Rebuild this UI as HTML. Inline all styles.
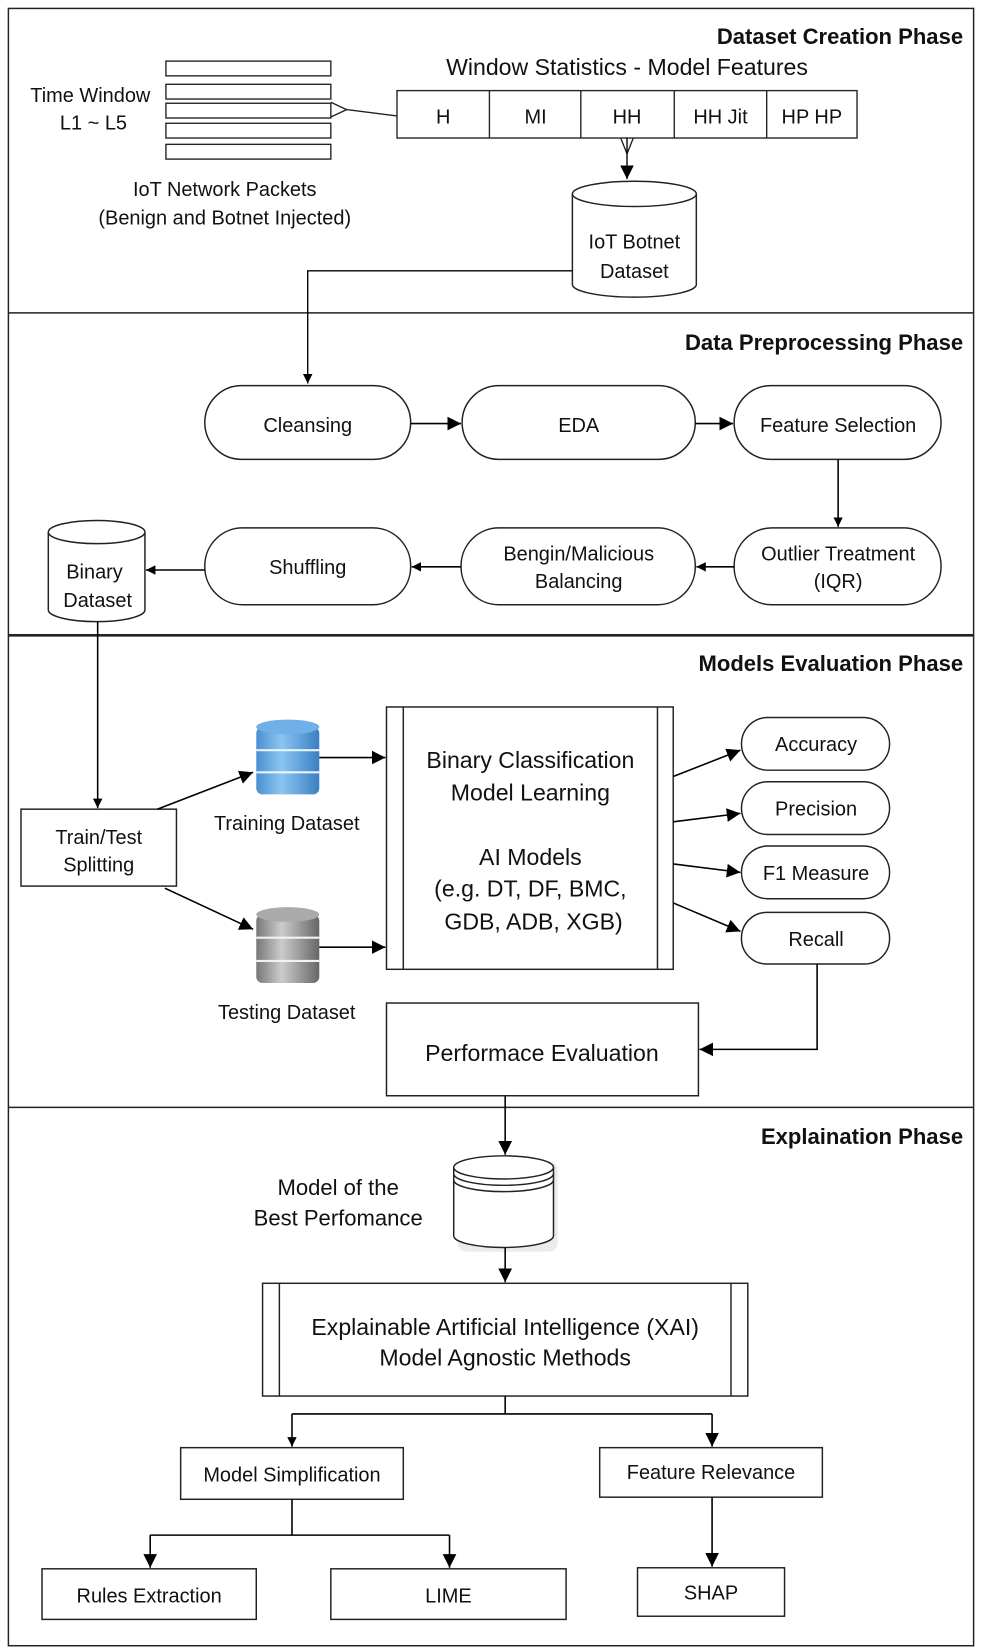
<!DOCTYPE html>
<html><head><meta charset="utf-8"><style>
html,body{margin:0;padding:0;background:#fff;}
svg{display:block;}
text{font-family:"Liberation Sans",Arial,sans-serif;fill:#111;}
.t{font-size:19px;text-anchor:middle;}
.b{font-size:21px;font-weight:bold;text-anchor:end;}
</style></head><body>
<svg width="982" height="1651" viewBox="0 0 935 1567" preserveAspectRatio="none" xmlns="http://www.w3.org/2000/svg">
<defs>
<marker id="a" viewBox="0 0 10 10" refX="10" refY="5" markerWidth="9" markerHeight="9" orient="auto" markerUnits="userSpaceOnUse"><path d="M0,0 L10,5 L0,10 z" fill="#000"/></marker>
<marker id="A" viewBox="0 0 10 10" refX="10" refY="5" markerWidth="13" markerHeight="13" orient="auto" markerUnits="userSpaceOnUse"><path d="M0,0 L10,5 L0,10 z" fill="#000"/></marker>
<linearGradient id="bl" x1="0" x2="1"><stop offset="0" stop-color="#4a90d0"/><stop offset=".4" stop-color="#8cc4f0"/><stop offset="1" stop-color="#3a7fc4"/></linearGradient>
<linearGradient id="gr" x1="0" x2="1"><stop offset="0" stop-color="#777"/><stop offset=".4" stop-color="#ccc"/><stop offset="1" stop-color="#666"/></linearGradient>
</defs>
<g fill="none" stroke="#222" stroke-width="1.4">
<rect x="8" y="8" width="919" height="1554"/>
<line x1="8" y1="297" x2="927" y2="297"/>
<line x1="8" y1="603" x2="927" y2="603" stroke-width="2.5"/>
<line x1="8" y1="1051" x2="927" y2="1051"/>
</g>
<text class="b" x="917" y="42">Dataset Creation Phase</text>
<text class="b" x="917" y="332">Data Preprocessing Phase</text>
<text class="b" x="917" y="637">Models Evaluation Phase</text>
<text class="b" x="917" y="1086">Explaination Phase</text>

<!-- Phase 1 -->
<g fill="#fff" stroke="#222" stroke-width="1.3">
<rect x="158" y="58" width="157" height="14"/>
<rect x="158" y="80" width="157" height="14"/>
<rect x="158" y="98" width="157" height="14"/>
<rect x="158" y="117" width="157" height="14"/>
<rect x="158" y="137" width="157" height="14"/>
<rect x="378" y="86" width="438" height="45"/>
<line x1="466" y1="86" x2="466" y2="131"/><line x1="553" y1="86" x2="553" y2="131"/>
<line x1="642" y1="86" x2="642" y2="131"/><line x1="730" y1="86" x2="730" y2="131"/>
<path d="M315,97 L330,104 L315,111 M330,104 L378,110" fill="none"/>
<path d="M591,131 L597,146 L603,131" fill="none"/>
</g>
<line x1="597" y1="131" x2="597" y2="170" stroke="#000" stroke-width="1.3" marker-end="url(#A)"/>
<text class="t" x="86" y="97">Time Window</text>
<text class="t" x="89" y="123">L1 ~ L5</text>
<text class="t" x="597" y="71" style="font-size:22px">Window Statistics - Model Features</text>
<text class="t" x="422" y="117">H</text><text class="t" x="510" y="117">MI</text><text class="t" x="597" y="117">HH</text>
<text class="t" x="686" y="117">HH Jit</text><text class="t" x="773" y="117">HP HP</text>
<text class="t" x="214" y="186">IoT Network Packets</text>
<text class="t" x="214" y="213">(Benign and Botnet Injected)</text>
<g fill="#fff" stroke="#222" stroke-width="1.4">
<path d="M545,184 L545,270 A59,12 0 0 0 663,270 L663,184"/>
<ellipse cx="604" cy="184" rx="59" ry="12"/>
<path d="M46,505 L46,579 A46,11 0 0 0 138,579 L138,505"/>
<ellipse cx="92" cy="505" rx="46" ry="11"/>
</g>
<text class="t" x="604" y="236">IoT Botnet</text><text class="t" x="604" y="264">Dataset</text>
<path d="M545,257 L293,257 L293,364" fill="none" stroke="#000" stroke-width="1.3" marker-end="url(#a)"/>

<!-- Phase 2 -->
<g fill="#fff" stroke="#222" stroke-width="1.4">
<rect x="195" y="366" width="196" height="70" rx="35"/>
<rect x="440" y="366" width="222" height="70" rx="35"/>
<rect x="699" y="366" width="197" height="70" rx="35"/>
<rect x="195" y="501" width="196" height="73" rx="36"/>
<rect x="439" y="501" width="223" height="73" rx="36"/>
<rect x="699" y="501" width="197" height="73" rx="36"/>
</g>
<g stroke="#000" stroke-width="1.5" fill="none">
<line x1="391" y1="402" x2="439" y2="402" marker-end="url(#A)"/>
<line x1="662" y1="402" x2="698" y2="402" marker-end="url(#A)"/>
<line x1="798" y1="436" x2="798" y2="500" marker-end="url(#a)"/>
<line x1="699" y1="538" x2="663" y2="538" marker-end="url(#a)"/>
<line x1="439" y1="538" x2="392" y2="538" marker-end="url(#a)"/>
<line x1="195" y1="541" x2="139" y2="541" marker-end="url(#a)"/>
<line x1="93" y1="590" x2="93" y2="767" marker-end="url(#a)"/>
</g>
<text class="t" x="293" y="410">Cleansing</text>
<text class="t" x="551" y="410">EDA</text>
<text class="t" x="798" y="410">Feature Selection</text>
<text class="t" x="293" y="545">Shuffling</text>
<text class="t" x="551" y="532">Bengin/Malicious</text><text class="t" x="551" y="558">Balancing</text>
<text class="t" x="798" y="532">Outlier Treatment</text><text class="t" x="798" y="558">(IQR)</text>
<text class="t" x="90" y="549">Binary</text><text class="t" x="93" y="576">Dataset</text>

<!-- Phase 3 -->
<g fill="#fff" stroke="#222" stroke-width="1.4">
<rect x="20" y="768" width="148" height="73"/>
<rect x="368" y="671" width="273" height="249"/>
<line x1="384" y1="671" x2="384" y2="920"/><line x1="626" y1="671" x2="626" y2="920"/>
<rect x="706" y="681" width="141" height="50" rx="25"/>
<rect x="706" y="742" width="141" height="50" rx="25"/>
<rect x="706" y="803" width="141" height="50" rx="25"/>
<rect x="706" y="866" width="141" height="49" rx="24"/>
<rect x="368" y="952" width="297" height="88"/>
</g>
<!-- db icons -->
<g stroke="none">
<rect x="244" y="690" width="60" height="64" fill="url(#bl)" rx="6"/>
<ellipse cx="274" cy="690" rx="30" ry="7" fill="#6fb0e8"/>
<line x1="244" y1="712" x2="304" y2="712" stroke="#e8f3fc" stroke-width="2"/>
<line x1="244" y1="733" x2="304" y2="733" stroke="#e8f3fc" stroke-width="2"/>
<rect x="244" y="868" width="60" height="65" fill="url(#gr)" rx="6"/>
<ellipse cx="274" cy="868" rx="30" ry="7" fill="#aaa"/>
<line x1="244" y1="890" x2="304" y2="890" stroke="#f2f2f2" stroke-width="2"/>
<line x1="244" y1="912" x2="304" y2="912" stroke="#f2f2f2" stroke-width="2"/>
</g>
<g stroke="#000" stroke-width="1.5" fill="none">
<line x1="150" y1="768" x2="241" y2="733" marker-end="url(#A)"/>
<line x1="157" y1="843" x2="241" y2="882" marker-end="url(#A)"/>
<line x1="304" y1="719" x2="367" y2="719" marker-end="url(#A)"/>
<line x1="304" y1="899" x2="367" y2="899" marker-end="url(#A)"/>
<line x1="641" y1="737" x2="705" y2="712" marker-end="url(#A)"/>
<line x1="641" y1="780" x2="705" y2="772" marker-end="url(#A)"/>
<line x1="641" y1="820" x2="705" y2="828" marker-end="url(#A)"/>
<line x1="641" y1="857" x2="705" y2="884" marker-end="url(#A)"/>
<path d="M778,915 L778,996 L666,996" marker-end="url(#A)"/>
<line x1="481" y1="1040" x2="481" y2="1096" marker-end="url(#A)"/>
</g>
<text class="t" x="94" y="801">Train/Test</text><text class="t" x="94" y="827">Splitting</text>
<text class="t" x="273" y="788">Training Dataset</text>
<text class="t" x="273" y="967">Testing Dataset</text>
<g style="font-size:22px">
<text class="t" x="505" y="729" style="font-size:22px">Binary Classification</text>
<text class="t" x="505" y="760" style="font-size:22px">Model Learning</text>
<text class="t" x="505" y="821" style="font-size:22px">AI Models</text>
<text class="t" x="505" y="851" style="font-size:22px">(e.g. DT, DF, BMC,</text>
<text class="t" x="508" y="882" style="font-size:22px">GDB, ADB, XGB)</text>
<text class="t" x="516" y="1007" style="font-size:22px">Performace Evaluation</text>
</g>
<text class="t" x="777" y="713">Accuracy</text>
<text class="t" x="777" y="774">Precision</text>
<text class="t" x="777" y="835">F1 Measure</text>
<text class="t" x="777" y="898">Recall</text>

<!-- Phase 4 -->
<rect x="436" y="1102" width="95" height="86" rx="8" fill="#ddd" opacity=".6"/>
<g fill="#fff" stroke="#222" stroke-width="1.4">
<path d="M432,1108 L432,1173 A47.5,11 0 0 0 527,1173 L527,1108"/>
<ellipse cx="479.5" cy="1108" rx="47.5" ry="11"/>
<path d="M432,1114 A47.5,11 0 0 0 527,1114" fill="none"/>
<path d="M432,1120 A47.5,11 0 0 0 527,1120" fill="none"/>
<rect x="250" y="1218" width="462" height="107"/>
<line x1="266" y1="1218" x2="266" y2="1325"/><line x1="696" y1="1218" x2="696" y2="1325"/>
<rect x="172" y="1374" width="212" height="49"/>
<rect x="571" y="1374" width="212" height="47"/>
<rect x="40" y="1489" width="204" height="48"/>
<rect x="315" y="1489" width="224" height="48"/>
<rect x="607" y="1488" width="140" height="46"/>
</g>
<g stroke="#000" stroke-width="1.5" fill="none">
<line x1="481" y1="1184" x2="481" y2="1217" marker-end="url(#A)"/>
<path d="M481,1325 L481,1342 M278,1342 L678,1342"/>
<line x1="278" y1="1342" x2="278" y2="1373" marker-end="url(#a)"/>
<line x1="678" y1="1342" x2="678" y2="1373" marker-end="url(#A)"/>
<path d="M278,1423 L278,1457 M143,1457 L428,1457"/>
<line x1="143" y1="1457" x2="143" y2="1488" marker-end="url(#A)"/>
<line x1="428" y1="1457" x2="428" y2="1488" marker-end="url(#A)"/>
<line x1="678" y1="1421" x2="678" y2="1487" marker-end="url(#A)"/>
</g>
<text class="t" x="322" y="1134" style="font-size:21px">Model of the</text>
<text class="t" x="322" y="1163" style="font-size:21px">Best Perfomance</text>
<text class="t" x="481" y="1267" style="font-size:22px">Explainable Artificial Intelligence (XAI)</text>
<text class="t" x="481" y="1296" style="font-size:22px">Model Agnostic Methods</text>
<text class="t" x="278" y="1406">Model Simplification</text>
<text class="t" x="677" y="1404">Feature Relevance</text>
<text class="t" x="142" y="1521">Rules Extraction</text>
<text class="t" x="427" y="1521">LIME</text>
<text class="t" x="677" y="1518">SHAP</text>
</svg>
</body></html>
